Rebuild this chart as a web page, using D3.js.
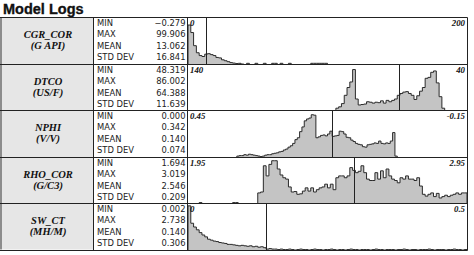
<!DOCTYPE html>
<html><head><meta charset="utf-8">
<script src="https://cdn.jsdelivr.net/npm/d3@7/dist/d3.min.js"></script>
<style>body{margin:0;background:#fff}svg{display:block}</style>
</head><body>
<script>
const logNames = ["CGR_COR","DTCO","NPHI","RHO_COR","SW_CT"];
const logUnits = ["(G API)","(US/F)","(V/V)","(G/C3)","(MH/M)"];
const statLabels = ["MIN","MAX","MEAN","STD DEV"];
const statMin  = ["\u22120.279","48.319","0.000","1.694","0.002"];
const statMax  = ["99.906","86.002","0.342","3.019","2.738"];
const statMean = ["13.062","64.388","0.140","2.546","0.140"];
const statStd  = ["16.841","11.639","0.074","0.209","0.306"];
const meanValues = [13.062, 64.388, 0.140, 2.546, 0.140];
const axisLeft  = [0, 140, 0.45, 1.95, 0];
const axisRight = [200, 40, -0.15, 2.95, 0.5];
const axisLeftLabels  = ["0","140","0.45","1.95","0"];
const axisRightLabels = ["200","40","-0.15","2.95","0.5"];
const binStart = [0, 48, 0, 1.95, 0];
const binWidth = [2, 1, 0.005, 0.01, 0.005];

const cgrCounts = [84,68,40,25,19,17,22,23,21,19,15,14,10,8,6,4,3,2,
  2.5,1,0,2.5,0,0,2.5,0,0,2.5,0,0,2.5,2.5,0,2.5,0,0,2.5,0,0,0,0,0,0,0,
  2.5,2.5,2.5,2.5,2.5,2.5,0,0,0,0,0,0,0,0,0,0,0,0,0,0,0,0,0,0,0,0,
  0,0,0,0,0,0,0,0,0,0,0,0,0,0,0,0,0,0,0,0,0,0,0,0,0,0,0,0,0,0];
const dtcoCounts = [5,30,60,86,83,72,70,50,42,32,24,33,37,41,40,37,33,25,22,19,
  22,16,21,17,18,16,18,19,14,13,12,25,89,62,50,33,15,8,5];
const nphiCounts = [3,53,35,30,31,29,30,35,30,31,29,28,27,22,23,27,28,30,34,37,
  42,43,50,55,56,47,46,45,56,50,46,48,47,44,42,90,91,84,82,78,
  65,55,42,38,30,25,22,18,16,13,12,10,9,8,6,6,5,3,2,3,
  4,5,6,7,5,6,4,4,3];
const rhoCounts = [0,0,0,0,2,0,0,0,0,0,0,0,0,0,0,0,2,2,0,0,
  0,0,0,0,0,23,25,82,60,85,93,93,75,62,56,53,36,25,26,20,
  21,27,34,27,34,25,30,34,36,42,34,42,30,56,60,60,56,60,78,72,
  67,70,82,67,53,50,50,67,53,71,56,75,60,53,50,45,56,53,60,53,
  53,50,56,38,20,16,20,23,15,22,12,15,18,15,18,20,23,20,23,23];
const swCounts = [95,58,50,44,38,33,29,24,22,20,19,17,16,15,13,13,12,11,10,11,
  10,9,10,8,9,7,8,6,3,4,3,3,2,3,2,2,3,2,1,2,
  3,2,2,1,2,3,2,2,1,2,2,3,2,1,2,2,1,2,3,2,
  2,1,2,2,2,1,2,3,2,2,1,2,2,2,1,2,2,3,2,1,
  2,2,1,2,2,2,3,2,1,2,2,2,1,2,2,3,2,2,1,2];
const histCounts = [cgrCounts, dtcoCounts, nphiCounts, rhoCounts, swCounts];

const W = 474, H = 255;
const svg = d3.select("body").append("svg").attr("width", W).attr("height", H);

const tableTop = 17, rowH = 46.5, nRows = logNames.length;
const xLabel0 = 2, xStat0 = 94, xHist0 = 188, xHist1 = 467;
const rowY = i => tableTop + i * rowH;
const crisp = v => Math.round(v) + 0.5;

svg.append("text").attr("x", 3).attr("y", 13.5)
  .attr("font-family", "Liberation Sans, Arial, sans-serif").attr("font-weight", "bold")
  .attr("font-size", 14.5).attr("fill", "#111").attr("stroke", "#111").attr("stroke-width", 0.35)
  .text("Model Logs");

// left dark strip and label cell background
svg.append("rect").attr("x", 0).attr("y", tableTop).attr("width", xLabel0)
  .attr("height", rowH * nRows).attr("fill", "#8c8c8c");
svg.append("rect").attr("x", xLabel0).attr("y", tableTop).attr("width", xStat0 - xLabel0)
  .attr("height", rowH * nRows).attr("fill", "#e6e6e6");

const defs = svg.append("defs");

logNames.forEach((name, i) => {
  const top = crisp(rowY(i)), bot = crisp(rowY(i + 1));
  const g = svg.append("g");
  const cx = (xLabel0 + xStat0) / 2;
  g.append("text").attr("x", cx).attr("y", top + 20).attr("text-anchor", "middle")
    .attr("font-family", "Liberation Serif, Times New Roman, serif").attr("font-weight", "bold")
    .attr("font-style", "italic").attr("font-size", 10.5).attr("fill", "#111").text(name);
  g.append("text").attr("x", cx).attr("y", top + 31).attr("text-anchor", "middle")
    .attr("font-family", "Liberation Serif, Times New Roman, serif").attr("font-weight", "bold")
    .attr("font-style", "italic").attr("font-size", 10.5).attr("fill", "#111").text(logUnits[i]);
  const vals = [statMin[i], statMax[i], statMean[i], statStd[i]];
  statLabels.forEach((lab, k) => {
    const y = top + 8.6 + k * 11.2;
    g.append("text").attr("x", 97).attr("y", y)
      .attr("font-family", "DejaVu Sans, Verdana, sans-serif").attr("font-size", 8.4)
      .attr("fill", "#222").text(lab);
    g.append("text").attr("x", 185.5).attr("y", y).attr("text-anchor", "end")
      .attr("font-family", "DejaVu Sans, Verdana, sans-serif").attr("font-size", 8.4)
      .attr("fill", "#222").text(vals[k]);
  });
  const x = d3.scaleLinear().domain([axisLeft[i], axisRight[i]]).range([xHist0, xHist1]);
  const y = d3.scaleLinear().domain([0, 100]).range([bot, top]);
  const counts = histCounts[i];
  const pts = [{e: binStart[i], c: 0}];
  counts.forEach((c, j) => pts.push({e: binStart[i] + j * binWidth[i], c: c}));
  pts.push({e: binStart[i] + counts.length * binWidth[i], c: 0});
  const clipId = "clip" + i;
  defs.append("clipPath").attr("id", clipId).append("rect")
    .attr("x", xHist0).attr("y", top).attr("width", xHist1 - xHist0).attr("height", bot - top);
  const hg = g.append("g").attr("clip-path", `url(#${clipId})`);
  const area = d3.area().curve(d3.curveStepAfter).x(d => x(d.e)).y0(bot).y1(d => y(d.c));
  const line = d3.line().curve(d3.curveStepAfter).x(d => x(d.e)).y(d => y(d.c));
  hg.append("path").attr("d", area(pts)).attr("fill", "#c4c4c4");
  hg.append("path").attr("d", line(pts)).attr("fill", "none").attr("stroke", "#2a2a2a").attr("stroke-width", 1);
  const mx = crisp(x(meanValues[i]));
  hg.append("line").attr("x1", mx).attr("x2", mx).attr("y1", top).attr("y2", bot)
    .attr("stroke", "#222").attr("stroke-width", 1);
  g.append("text").attr("x", 190).attr("y", top + 8.5)
    .attr("font-family", "Liberation Serif, Times New Roman, serif").attr("font-weight", "bold")
    .attr("font-style", "italic").attr("font-size", 8.8).attr("fill", "#111").text(axisLeftLabels[i]);
  g.append("text").attr("x", 465).attr("y", top + 8.5).attr("text-anchor", "end")
    .attr("font-family", "Liberation Serif, Times New Roman, serif").attr("font-weight", "bold")
    .attr("font-style", "italic").attr("font-size", 8.8).attr("fill", "#111").text(axisRightLabels[i]);
});

const lines = svg.append("g").attr("stroke", "#222").attr("stroke-width", 1);
for (let i = 0; i <= nRows; i++) {
  const yy = crisp(rowY(i));
  lines.append("line").attr("x1", 0).attr("x2", xHist1 + 0.5).attr("y1", yy).attr("y2", yy);
}
[xStat0 - 0.5, xHist0 - 0.5, xHist1 + 0.5].forEach(xx => {
  lines.append("line").attr("x1", xx).attr("x2", xx)
    .attr("y1", crisp(rowY(0))).attr("y2", crisp(rowY(nRows)));
});
</script>
</body></html>
